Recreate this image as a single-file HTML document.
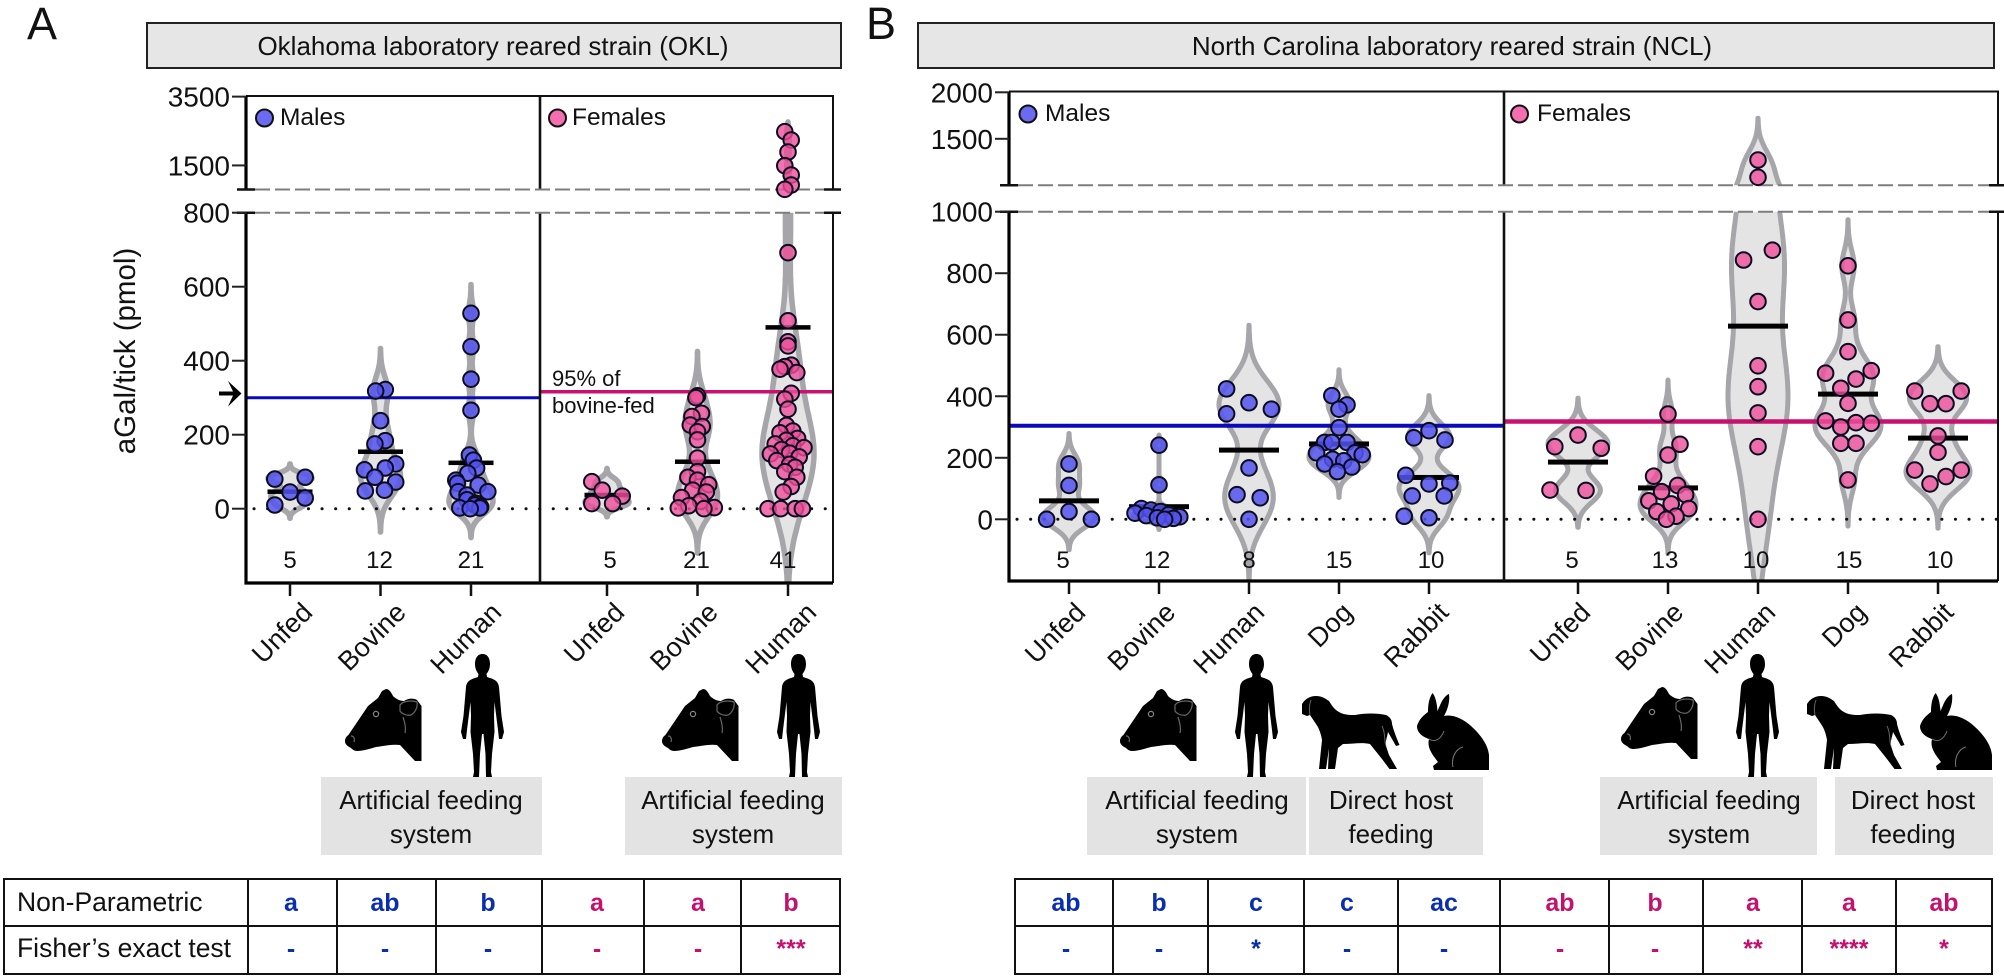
<!DOCTYPE html>
<html lang="en">
<head>
<meta charset="utf-8">
<title>aGal per tick by strain, sex and blood meal</title>
<style>
  html, body { margin: 0; padding: 0; background: #fff; }
  svg { display: block; font-family: "Liberation Sans", Arial, sans-serif; }
  .cell { font-size: 25px; font-weight: bold; text-anchor: middle; }
  .blue { fill: #0a2eb0; }
  .pink { fill: #c4106e; }
  .note { font-size: 26px; text-anchor: middle; fill: #111; }
</style>
</head>
<body>
<svg id="figure" width="2004" height="979" viewBox="0 0 2004 979" xmlns="http://www.w3.org/2000/svg">
  <defs>
    <g id="cow">
      <path d="M41 0C44 0 46 3 48 7C51 10 55 12 59 12C63 9 69 9 72 11L76.5 17L76.5 72L70 72L55 56C47 55 39 57 31 58C24 60 18 62 12 62C9 62 7 60 6 59C2 57 0 55 0 52C0 49 2 47 3.4 46L23 17L33 9L37 2Z"/>
      <path d="M55 16C58 12 66 11 72 13C73 18 70 24 66 26C62 27 57 25 55 22ZM58 28C60 34 61 40 60 44M6 47C9 47 10 50 9 53" fill="none" stroke="#666" stroke-width="1.2"/>
      <circle cx="31" cy="25" r="2.6" fill="none" stroke="#888" stroke-width="1.2"/>
    </g>
    <path id="human" d="M21.5 0C27 0 29 5 29 10C29 15 27 18 25.5 20L26 23C32 25 37 26 38 33L40.5 62L43 78L41 85L38 85L37 76L33.5 48L33 62L33.5 78L31 100L30 118L31 123L25 123L24.5 100L22.5 80L21 80L19 100L18 123L12 123L13 118L12 100L9.5 78L10 62L9.5 48L6 76L5 85L2 85L0 78L2.5 62L5 33C6 26 11 25 17 23L17.5 20C16 18 14 15 14 10C14 5 16 0 21.5 0Z"/>
    <g id="dog">
      <path d="M14 0C20 0 24 3 27 5C30 10 33 14 37 16C42 19 48 19 53 19C63 17 75 17 84 19C88 21 90 24 90 28C92 36 95 43 97.5 49L94 50L90 43L86 36C85 42 83 46 84 50L87 59L95 73L87.5 73L80 63L68 48C60 46 50 48 41 48L36 52L33 73L26 73L27 52L24 73L17 73L20 44C19 38 17 32 14 28L8 19L5 20L0 18L0 8C3 3 8 0 14 0Z"/>
      <path d="M9 4C7 9 7 14 8 19M80 30C84 38 82 46 84 50" fill="none" stroke="#666" stroke-width="1"/>
    </g>
    <g id="rabbit">
      <path d="M15.5 0C19 4 20 12 20.5 18L24 10C26 6 29 2 32 1C33 8 31 16 27 23C36 21 46 26 54 33C64 42 71 52 72 62L72 77L17 77L16 73L21 69C14 60 10 54 12 46C6 44 0 40 0 33C2 26 7 22 11 19C11 12 12 5 15.5 0Z"/>
      <path d="M12 46C18 50 24 46 27 38M36 74C34 66 38 56 46 54" fill="none" stroke="#777" stroke-width="1"/>
    </g>
  </defs>

  <rect x="0" y="0" width="2004" height="979" fill="#fff"/>

  <!-- Panel letters -->
  <text x="27" y="39" font-size="45" fill="#111">A</text>
  <text x="866" y="39" font-size="45" fill="#111">B</text>

  <!-- Headers -->
  <rect x="147" y="23" width="694" height="45" fill="#e6e6e6" stroke="#222" stroke-width="2"/>
  <text x="493" y="55" font-size="26" text-anchor="middle" fill="#111">Oklahoma laboratory reared strain (OKL)</text>
  <rect x="918" y="23" width="1076" height="45" fill="#e6e6e6" stroke="#222" stroke-width="2"/>
  <text x="1452" y="55" font-size="26" text-anchor="middle" fill="#111">North Carolina laboratory reared strain (NCL)</text>

  <!-- Y axis title -->
  <text transform="translate(135 351) rotate(-90)" font-size="29.5" text-anchor="middle" fill="#111">aGal/tick (pmol)</text>

  <!-- Threshold arrow -->
  <path d="M219 391.5H233L228 381L241.5 393.5L228 406.5L233 395.5H219Z" fill="#000"/>

  <g id="okl-plot"></g>
  <g id="ncl-plot"></g>

  <!-- Legends and annotation -->
  <circle cx="264.5" cy="118" r="8.5" fill="#6a6af2" stroke="#111" stroke-width="2"/>
  <text x="280" y="125" font-size="24.5" fill="#111">Males</text>
  <circle cx="557.5" cy="118" r="8.5" fill="#f56fb0" stroke="#111" stroke-width="2"/>
  <text x="572" y="125" font-size="24.5" fill="#111">Females</text>
  <circle cx="1028" cy="114" r="8.5" fill="#6a6af2" stroke="#111" stroke-width="2"/>
  <text x="1045" y="121" font-size="24.5" fill="#111">Males</text>
  <circle cx="1519.5" cy="114" r="8.5" fill="#f56fb0" stroke="#111" stroke-width="2"/>
  <text x="1537" y="121" font-size="24.5" fill="#111">Females</text>
  <text x="552" y="386" font-size="22" fill="#111">95% of</text>
  <text x="552" y="413" font-size="22" fill="#111">bovine-fed</text>

  <!-- Silhouettes -->
  <g fill="#000">
    <use href="#cow" x="345" y="689"/>
    <use href="#human" x="461" y="654"/>
    <use href="#cow" x="662" y="689"/>
    <use href="#human" x="777" y="654"/>
    <use href="#cow" x="1120" y="689"/>
    <use href="#human" x="1235" y="654"/>
    <use href="#dog" x="1302" y="696"/>
    <use href="#rabbit" x="1417" y="693"/>
    <use href="#cow" x="1621" y="687"/>
    <use href="#human" x="1736" y="654"/>
    <use href="#dog" x="1807" y="696"/>
    <use href="#rabbit" x="1920" y="693"/>
  </g>

  <!-- Feeding system boxes -->
  <rect x="321" y="777" width="221" height="78" fill="#e4e3e3"/>
  <text class="note" x="431" y="809">Artificial feeding</text>
  <text class="note" x="431" y="843">system</text>
  <rect x="625" y="777" width="217" height="78" fill="#e4e3e3"/>
  <text class="note" x="733" y="809">Artificial feeding</text>
  <text class="note" x="733" y="843">system</text>

  <rect x="1087" y="777" width="219" height="78" fill="#e4e3e3"/>
  <text class="note" x="1197" y="809">Artificial feeding</text>
  <text class="note" x="1197" y="843">system</text>
  <rect x="1309" y="777" width="174" height="78" fill="#e4e3e3"/>
  <text class="note" x="1391" y="809">Direct host</text>
  <text class="note" x="1391" y="843">feeding</text>
  <rect x="1600" y="777" width="217" height="78" fill="#e4e3e3"/>
  <text class="note" x="1709" y="809">Artificial feeding</text>
  <text class="note" x="1709" y="843">system</text>
  <rect x="1835" y="777" width="158" height="78" fill="#e4e3e3"/>
  <text class="note" x="1913" y="809">Direct host</text>
  <text class="note" x="1913" y="843">feeding</text>

  <!-- OKL statistics table -->
  <g>
    <rect x="4" y="879" width="836" height="95" fill="none" stroke="#111" stroke-width="2"/>
    <path d="M4 926H840M248 879V974M337 879V974M436 879V974M542 879V974M644 879V974M741 879V974" fill="none" stroke="#111" stroke-width="2"/>
    <text x="17" y="911" font-size="26.5" fill="#111">Non-Parametric</text>
    <text x="17" y="957" font-size="26.5" fill="#111">Fisher’s exact test</text>
    <text class="cell blue" x="291" y="911">a</text>
    <text class="cell blue" x="385" y="911">ab</text>
    <text class="cell blue" x="488" y="911">b</text>
    <text class="cell pink" x="597" y="911">a</text>
    <text class="cell pink" x="698" y="911">a</text>
    <text class="cell pink" x="791" y="911">b</text>
    <text class="cell blue" x="291" y="957">-</text>
    <text class="cell blue" x="385" y="957">-</text>
    <text class="cell blue" x="488" y="957">-</text>
    <text class="cell pink" x="597" y="957">-</text>
    <text class="cell pink" x="698" y="957">-</text>
    <text class="cell pink" x="791" y="957">***</text>
  </g>

  <!-- NCL statistics table -->
  <g>
    <rect x="1015" y="879" width="977" height="95" fill="none" stroke="#111" stroke-width="2"/>
    <path d="M1015 926H1992M1113 879V974M1208 879V974M1304 879V974M1398 879V974M1500 879V974M1609 879V974M1703 879V974M1802 879V974M1896 879V974" fill="none" stroke="#111" stroke-width="2"/>
    <text class="cell blue" x="1066" y="911">ab</text>
    <text class="cell blue" x="1159" y="911">b</text>
    <text class="cell blue" x="1256" y="911">c</text>
    <text class="cell blue" x="1347" y="911">c</text>
    <text class="cell blue" x="1444" y="911">ac</text>
    <text class="cell pink" x="1560" y="911">ab</text>
    <text class="cell pink" x="1655" y="911">b</text>
    <text class="cell pink" x="1753" y="911">a</text>
    <text class="cell pink" x="1849" y="911">a</text>
    <text class="cell pink" x="1944" y="911">ab</text>
    <text class="cell blue" x="1066" y="957">-</text>
    <text class="cell blue" x="1159" y="957">-</text>
    <text class="cell blue" x="1256" y="957">*</text>
    <text class="cell blue" x="1347" y="957">-</text>
    <text class="cell blue" x="1444" y="957">-</text>
    <text class="cell pink" x="1560" y="957">-</text>
    <text class="cell pink" x="1655" y="957">-</text>
    <text class="cell pink" x="1753" y="957">**</text>
    <text class="cell pink" x="1849" y="957">****</text>
    <text class="cell pink" x="1944" y="957">*</text>
  </g>
</svg>

<script>
// ---------- OKL data (aGal/tick, pmol) ----------
const oklCategories = ['Unfed', 'Bovine', 'Human', 'Unfed', 'Bovine', 'Human'];
const oklCounts = [5, 12, 21, 5, 21, 41];
const oklMeans = [46, 154, 124, 37, 127, 490];
const oklBandwidths = [12, 37, 26, 12, 40, 95];
const oklThresholds = [300, 316];
const oklLowerTicks = [0, 200, 400, 600, 800];
const oklUpperTicks = [1500, 3500];

const oklMaleUnfed = [85, 80, 45, 29, 10];
const oklMaleUnfedSwarm = [0.95, -0.95, 0, 0.95, -0.95];
const oklMaleBovine = [322, 318, 238, 184, 175, 121, 110, 105, 85, 72, 50, 48];
const oklMaleBovineSwarm = [0.3, -0.3, 0, 0.3, -0.35, 0.95, 0.3, -1, -0.35, 0.95, 0.25, -0.95];
const oklMaleHuman = [528, 438, 350, 266, 145, 131, 110, 96, 77, 69, 64, 46, 46, 37, 24, 15, 10, 5, 2, 2, 0];
const oklMaleHumanSwarm = [0, 0, 0, 0, -0.1, 0.15, 0.35, -0.2, -0.95, -0.85, 0.45, 1.05, -0.8, -0.25, -0.25, 0.3, 0.25, 0.6, -0.7, 0.55, -0.05];
const oklFemaleUnfed = [73, 50, 34, 14, 14];
const oklFemaleUnfedSwarm = [-0.95, -0.3, 0.95, -0.95, 0.35];
const oklFemaleBovine = [305, 300, 258, 249, 226, 222, 208, 186, 137, 100, 85, 77, 65, 50, 45, 30, 20, 8, 3, 2, 0];
const oklFemaleBovineSwarm = [0, -0.1, 0.25, -0.35, -0.45, 0.3, 0, 0, 0, 0, -0.6, 0, 0.7, -0.3, 0.55, -1, 0.2, -0.55, 1.05, -1.2, 0.4];
const oklFemaleHuman = [2480, 2239, 1890, 1492, 1221, 930, 805, 692, 508, 451, 440, 388, 384, 377, 368, 312, 296, 269, 225, 210, 205, 190, 185, 175, 170, 165, 160, 150, 148, 140, 130, 120, 112, 100, 85, 60, 45, 0, 0, 0, 0];
const oklFemaleHumanSwarm = [-0.2, 0.2, 0, -0.2, 0.2, 0.2, -0.2, 0, 0, 0, 0, 0.2, -0.2, -0.5, 0.55, 0.2, -0.2, 0, -0.1, 0.3, -0.5, 0.6, -0.1, -0.8, 0.3, 1, -0.4, 0.1, -1.1, 0.7, -0.7, 0.1, 0.45, -0.2, 0.55, 0.2, -0.3, -1.25, -0.45, 0.45, 0.9];

// ---------- NCL data (aGal/tick, pmol) ----------
const nclCategories = ['Unfed', 'Bovine', 'Human', 'Dog', 'Rabbit', 'Unfed', 'Bovine', 'Human', 'Dog', 'Rabbit'];
const nclCounts = [5, 12, 8, 15, 10, 5, 13, 10, 15, 10];
const nclMeans = [60, 41, 225, 245, 136, 186, 102, 628, 407, 264];
const nclBandwidths = [33, 11, 69, 28, 38, 40, 37, 150, 50, 48];
const nclThresholds = [304, 318];
const nclLowerTicks = [0, 200, 400, 600, 800, 1000];
const nclUpperTicks = [1500, 2000];

const nclMaleUnfed = [180, 110, 25, 0, 0];
const nclMaleUnfedSwarm = [0, 0, 0, -1.4, 1.4];
const nclMaleBovine = [241, 112, 35, 30, 25, 20, 15, 12, 8, 5, 3, 0];
const nclMaleBovineSwarm = [0, 0, -1.1, -0.5, 0.1, -1.5, 0.6, -0.8, 1.3, -0.1, 0.9, 0.35];
const nclMaleHuman = [424, 379, 358, 343, 167, 80, 70, 0];
const nclMaleHumanSwarm = [-1.4, 0, 1.4, -1.4, 0, -0.75, 0.7, 0];
const nclMaleDog = [402, 372, 358, 298, 250, 250, 250, 216, 216, 210, 195, 190, 180, 170, 155];
const nclMaleDogSwarm = [-0.45, 0.5, 0, 0, -0.9, -0.45, 0.5, -1.4, 1, 1.45, -0.4, 0.3, -0.9, 0.8, -0.1];
const nclMaleRabbit = [288, 265, 258, 143, 118, 115, 76, 76, 10, 5];
const nclMaleRabbitSwarm = [0, -0.95, 1, -1.45, 1.3, 0, -1.05, 0.95, -1.55, 0];
const nclFemaleUnfed = [274, 236, 231, 95, 94];
const nclFemaleUnfedSwarm = [0, -1.45, 1.45, -1.75, 0.5];
const nclFemaleBovine = [342, 244, 209, 140, 110, 90, 80, 60, 50, 35, 25, 10, 0];
const nclFemaleBovineSwarm = [0, 0.75, 0, -0.9, 0.6, -0.4, 1.1, -1.2, 0.2, 1.3, -0.7, 0.5, -0.1];
const nclFemaleHuman = [1272, 1086, 875, 843, 708, 499, 431, 346, 236, 0];
const nclFemaleHumanSwarm = [0, 0, 0.9, -0.9, 0, 0, 0, 0, 0, 0];
const nclFemaleDog = [824, 648, 545, 483, 475, 456, 426, 377, 320, 314, 312, 300, 247, 247, 128];
const nclFemaleDogSwarm = [0, 0, 0, 1.45, -1.4, 0.5, -0.45, 0, -1.4, 0.5, 1.45, -0.45, -0.45, 0.5, 0];
const nclFemaleRabbit = [417, 417, 376, 376, 271, 218, 160, 160, 139, 115];
const nclFemaleRabbitSwarm = [-1.45, 1.45, -0.5, 0.5, 0, 0, -1.45, 1.45, 0.5, -0.5];

const oklSeries = [oklMaleUnfed, oklMaleBovine, oklMaleHuman, oklFemaleUnfed, oklFemaleBovine, oklFemaleHuman];
const oklSwarms = [oklMaleUnfedSwarm, oklMaleBovineSwarm, oklMaleHumanSwarm, oklFemaleUnfedSwarm, oklFemaleBovineSwarm, oklFemaleHumanSwarm];
const nclSeries = [nclMaleUnfed, nclMaleBovine, nclMaleHuman, nclMaleDog, nclMaleRabbit, nclFemaleUnfed, nclFemaleBovine, nclFemaleHuman, nclFemaleDog, nclFemaleRabbit];
const nclSwarms = [nclMaleUnfedSwarm, nclMaleBovineSwarm, nclMaleHumanSwarm, nclMaleDogSwarm, nclMaleRabbitSwarm, nclFemaleUnfedSwarm, nclFemaleBovineSwarm, nclFemaleHumanSwarm, nclFemaleDogSwarm, nclFemaleRabbitSwarm];

const SVG_NS = 'http://www.w3.org/2000/svg';

function make(parent, tag, attrs, text) {
  const el = document.createElementNS(SVG_NS, tag);
  for (const key in attrs) el.setAttribute(key, attrs[key]);
  if (text !== undefined) el.textContent = text;
  parent.appendChild(el);
  return el;
}

function drawPanel(p) {
  const root = document.getElementById(p.id);

  const yScale = function (v) {
    return v <= p.breakValue
      ? p.zeroY - v * p.lowerPx
      : p.breakUpperY - (v - p.breakValue) * p.upperPx;
  };
  const xScale = function (i) {
    return i < p.maleCount
      ? p.maleStart + i * p.step
      : p.femaleStart + (i - p.maleCount) * p.step;
  };

  // Clip violins to the two axis segments, leaving the break empty.
  const defs = make(root, 'defs', {});
  const clip = make(defs, 'clipPath', { id: p.prefix + '-clip' });
  make(clip, 'rect', { x: p.left, y: p.top, width: p.right - p.left, height: p.breakUpperY - p.top });
  make(clip, 'rect', { x: p.left, y: p.breakLowerY, width: p.right - p.left, height: p.bottom - p.breakLowerY });

  // Violins, drawn from a Gaussian kernel density of each series.
  const violins = make(root, 'g', { 'clip-path': 'url(#' + p.prefix + '-clip)' });
  
  
  p.series.forEach(function (values, i) {
    const h = p.bandwidths[i];
    const lo = Math.min.apply(null, values) - 3 * h;
    const hi = Math.max.apply(null, values) + 3 * h;
    const samples = [];
    let peak = 0;
    for (let k = 0; k <= 260; k++) {
      const v = lo + (hi - lo) * k / 260;
      let d = 0;
      values.forEach(function (x) { d += Math.exp(-0.5 * Math.pow((v - x) / h, 2)); });
      samples.push([v, d]);
      if (d > peak) peak = d;
    }
    const cx = xScale(i);
    const halfWidth = p.halfWidths[i];
    const right = samples.map(function (s) { return (cx + s[1] / peak * halfWidth).toFixed(1) + ' ' + yScale(s[0]).toFixed(1); });
    const left = samples.slice().reverse().map(function (s) { return (cx - s[1] / peak * halfWidth).toFixed(1) + ' ' + yScale(s[0]).toFixed(1); });
    const violin = make(violins, 'path', {
      d: 'M' + right.concat(left).join('L') + 'Z',
      fill: '#e4e4e4', stroke: '#a6a6aa', 'stroke-width': p.violinStroke, 'stroke-linejoin': 'round'
    });
    
    
  });

  // Reference lines per sex.
  const maleLine = make(root, 'line', {
    x1: p.left, x2: p.divider, y1: yScale(p.thresholds[0]), y2: yScale(p.thresholds[0]),
    stroke: '#0a0ab8', 'stroke-width': p.lineWidth
  });
  
  
  const femaleLine = make(root, 'line', {
    x1: p.divider, x2: p.right, y1: yScale(p.thresholds[1]), y2: yScale(p.thresholds[1]),
    stroke: '#c8106e', 'stroke-width': p.lineWidth + 0.5
  });
  
  

  // Zero line.
  const zero = make(root, 'line', {
    x1: p.left + 8, x2: p.right, y1: yScale(0), y2: yScale(0),
    stroke: '#111', 'stroke-width': 3, 'stroke-linecap': 'round', 'stroke-dasharray': '0.1 13.5'
  });
  
  

  // Axis frame: thin top and right edges.
  const frame = make(root, 'path', {
    d: 'M' + p.left + ' ' + p.top + 'H' + p.right + 'V' + p.breakUpperY +
       'M' + p.right + ' ' + p.breakLowerY + 'V' + p.bottom,
    fill: 'none', stroke: '#111', 'stroke-width': 2
  });
  
  
  const leftAxis = make(root, 'path', {
    d: 'M' + p.left + ' ' + p.breakUpperY + 'V' + p.top + 'M' + p.left + ' ' + p.breakLowerY + 'V' + p.bottom + 'H' + p.right,
    fill: 'none', stroke: '#000', 'stroke-width': 3.2
  });
  
  
  const divider = make(root, 'path', {
    d: 'M' + p.divider + ' ' + p.top + 'V' + p.breakUpperY + 'M' + p.divider + ' ' + p.breakLowerY + 'V' + p.bottom,
    fill: 'none', stroke: '#111', 'stroke-width': 2.6
  });
  
  

  // Axis break marks and dashes.
  [p.breakUpperY, p.breakLowerY].forEach(function (y, n) {
    const dash = make(root, 'line', {
      x1: p.left + 9, x2: p.right - 8, y1: y, y2: y,
      stroke: '#7d7d7d', 'stroke-width': 2, 'stroke-dasharray': '15 5'
    });
    
    
    const stubs = make(root, 'path', {
      d: 'M' + (p.left - 9) + ' ' + y + 'H' + (p.left + 9) + 'M' + (p.right - 9) + ' ' + y + 'H' + (p.right + 8),
      fill: 'none', stroke: '#111', 'stroke-width': 2.5
    });
    
    
  });

  // Y ticks.
  p.lowerTicks.concat(p.upperTicks).forEach(function (v) {
    const y = yScale(v);
    const tick = make(root, 'line', { x1: p.left - 14, x2: p.left, y1: y, y2: y, stroke: '#222', 'stroke-width': 2 });
    
    
    const label = make(root, 'text', { x: p.left - 16, y: y + 10, 'font-size': 28, 'text-anchor': 'end', fill: '#111' }, String(v));
    
    
  });

  // Category ticks, labels, counts.
  p.categories.forEach(function (name, i) {
    const x = xScale(i);
    const tick = make(root, 'line', { x1: x, x2: x, y1: p.bottom, y2: p.bottom + 13, stroke: '#111', 'stroke-width': 2.5 });
    
    
    const label = make(root, 'text', {
      transform: 'translate(' + (x + p.labelOffsets[i]) + ' 614) rotate(-45)',
      'font-size': 27, 'text-anchor': 'end', fill: '#111'
    }, name);
    
    
    const count = make(root, 'text', {
      x: x + p.countOffsets[i], y: 568, 'font-size': 24, 'text-anchor': 'middle', fill: '#111'
    }, String(p.counts[i]));
    
    
  });

  // Mean bars, then semi-transparent dots on top.
  p.series.forEach(function (values, i) {
    const x = xScale(i);
    const bar = make(root, 'rect', {
      x: x - p.barWidth / 2, width: p.barWidth,
      y: yScale(p.means[i]) - p.barHeight / 2, height: p.barHeight, fill: '#000'
    });
    
    
    const isMale = i < p.maleCount;
    const group = make(root, 'g', {
      fill: isMale ? '#5454ee' : '#ee4f9a',
      'fill-opacity': isMale ? 0.85 : 0.8,
      stroke: '#0c0c20', 'stroke-width': 2
    });
    
    
    values.forEach(function (v, k) {
      const dot = make(group, 'circle', { cx: x + p.swarms[i][k] * 16, cy: yScale(v), r: 7.8 });
      
      
    });
  });
}

drawPanel({
  id: 'okl-plot', prefix: 'okl',
  categories: oklCategories, counts: oklCounts, means: oklMeans, series: oklSeries, swarms: oklSwarms,
  bandwidths: oklBandwidths, thresholds: oklThresholds, lowerTicks: oklLowerTicks, upperTicks: oklUpperTicks,
  maleCount: 3, maleStart: 290, femaleStart: 607, step: 90.5,
  left: 246, right: 833, divider: 540, top: 96, bottom: 583,
  zeroY: 508.7, lowerPx: 0.37, breakValue: 800, breakUpperY: 189.5, breakLowerY: 212.7, upperPx: 0.0344,
  halfWidths: [22, 20, 22, 22, 20, 26], labelOffsets: [24, 27, 32, 19, 22, 30], countOffsets: [0, -1, 0, 3, -1, -5],
  barWidth: 45, barHeight: 4.5, lineWidth: 3, violinStroke: 5.5
});

drawPanel({
  id: 'ncl-plot', prefix: 'ncl',
  categories: nclCategories, counts: nclCounts, means: nclMeans, series: nclSeries, swarms: nclSwarms,
  bandwidths: nclBandwidths, thresholds: nclThresholds, lowerTicks: nclLowerTicks, upperTicks: nclUpperTicks,
  maleCount: 5, maleStart: 1069, femaleStart: 1578, step: 90,
  left: 1009, right: 1998, divider: 1504, top: 91.5, bottom: 581,
  zeroY: 519.3, lowerPx: 0.3076, breakValue: 1000, breakUpperY: 185.3, breakLowerY: 211.7, upperPx: 0.093,
  halfWidths: [26, 26, 30, 30, 30, 30, 28, 30, 33, 32], labelOffsets: [18, 18, 17, 15, 21, 14, 17, 19, 20, 17], countOffsets: [-6, -2, 0, 0, 2, -6, -3, -2, 1, 2],
  barWidth: 60, barHeight: 5, lineWidth: 4, violinStroke: 5
});
</script>
</body>
</html>
